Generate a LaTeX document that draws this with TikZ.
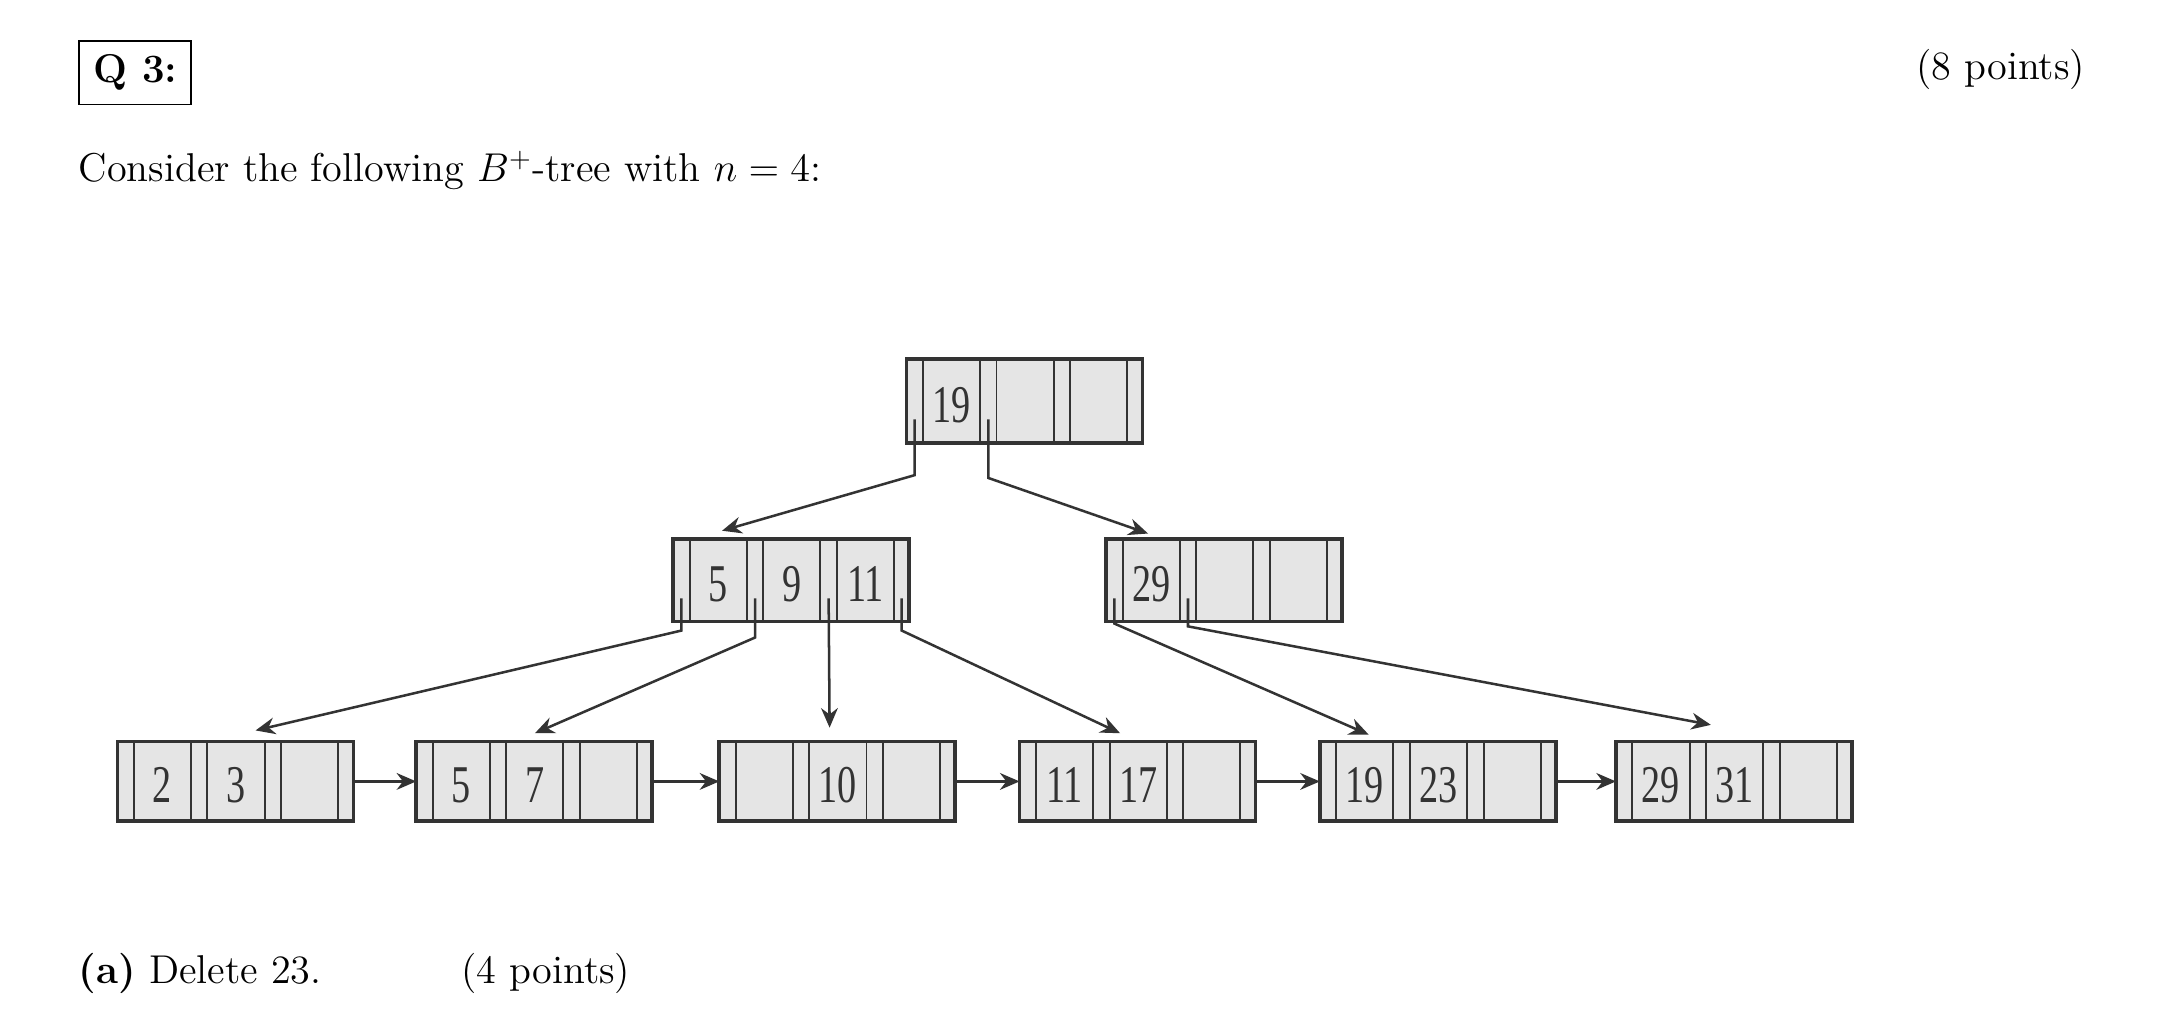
\documentclass[tikz,border=0pt]{standalone}
\usepackage{fontspec}
\newfontfamily\keyfont{Liberation Serif}
\usetikzlibrary{calc,arrows.meta}
\tikzset{
  ptr/.style={draw=black!80,line width=0.9pt,-{Stealth[length=7pt,width=6pt]}},
  cellline/.style={draw=black!80,line width=0.7pt},
  keytext/.style={font=\keyfont\fontsize{19}{19}\selectfont,inner sep=0pt,text=black!80}
}
\newcommand\bnode[7]{%
  \fill[black!10] (#2,#3) rectangle ++(169,#4);
  \foreach \b in {11.8,52.7,64.5,105.4,117.2,158.1} \draw[cellline] (#2+\b,#3) -- ++(0,#4);
  \draw[draw=black!80,line width=1.3pt] (#2,#3) rectangle ++(169,#4);
  \coordinate (#1-nw) at (#2,#3);
  \coordinate (#1-w) at (#2,#3+#4/2);
  \coordinate (#1-e) at (#2+169,#3+#4/2);
  \node[keytext] (#1-k1) at (#2+32.25,#3+#4*0.55) {\scalebox{0.72}[1]{#5}};
  \node[keytext] (#1-k2) at (#2+84.95,#3+#4*0.55) {\scalebox{0.72}[1]{#6}};
  \node[keytext] (#1-k3) at (#2+137.65,#3+#4*0.55) {\scalebox{0.72}[1]{#7}};
  \coordinate (#1-t0) at (#2+5.9,#3+#4*0.72);
  \coordinate (#1-t1) at (#2+58.6,#3+#4*0.72);
  \coordinate (#1-t2) at (#2+111.3,#3+#4*0.72);
  \coordinate (#1-t3) at (#2+163.6,#3+#4*0.72);
}
\begin{document}
\begin{tikzpicture}[x=0.5pt,y=-0.5pt]
\useasboundingbox (0,0) rectangle (1548,733);
\fill[white] (0,0) rectangle (1548,733);
\node[draw,line width=0.6pt,inner sep=5pt,anchor=west,font=\fontsize{14.4}{17}\selectfont\bfseries] (q) at (56,52) {Q 3:};
\node[anchor=east,font=\fontsize{14.4}{17}\selectfont] (pts) at (1500,50) {(8 points)};
\node[anchor=west,font=\fontsize{14.4}{17}\selectfont,inner sep=0pt] (intro) at (56,122) {Consider the following $B^{+}$-tree with $n=4$:};
\node[anchor=west,font=\fontsize{14.4}{17}\selectfont,inner sep=0pt] (qa) at (56,697) {\textbf{(a)} Delete 23.};
\node[anchor=west,font=\fontsize{14.4}{17}\selectfont,inner sep=0pt] (qapts) at (330,697) {(4 points)};

\bnode{root}{649}{257}{60}{19}{}{}
\bnode{ma}{482}{386}{59}{5}{9}{11}
\bnode{mb}{792}{386}{59}{29}{}{}
\bnode{la}{84}{531}{57}{2}{3}{}
\bnode{lb}{298}{531}{57}{5}{7}{}
\bnode{lc}{515}{531}{57}{}{10}{}
\bnode{ld}{730}{531}{57}{11}{17}{}
\bnode{le}{945}{531}{57}{19}{23}{}
\bnode{lf}{1157}{531}{57}{29}{31}{}

\draw[ptr] (root-t0) -- ($(root-t0)+(0,40)$) -- ($(ma-nw)+(35,-6)$);
\draw[ptr] (root-t1) -- ($(root-t1)+(0,42)$) -- ($(mb-nw)+(30,-4)$);
\draw[ptr] (ma-t0) -- ($(ma-t0)+(0,23)$) -- ($(la-nw)+(99,-8)$);
\draw[ptr] (ma-t1) -- ($(ma-t1)+(0,28)$) -- ($(lb-nw)+(85,-6)$);
\draw[ptr] (ma-t2) -- ($(lc-nw)+(79,-10)$);
\draw[ptr] (ma-t3) -- ($(ma-t3)+(0,23)$) -- ($(ld-nw)+(72,-6)$);
\draw[ptr] (mb-t0) -- ($(mb-t0)+(0,18)$) -- ($(le-nw)+(35,-5)$);
\draw[ptr] (mb-t1) -- ($(mb-t1)+(0,20)$) -- ($(lf-nw)+(68,-12)$);
\draw[ptr] (la-e) -- (lb-w);
\draw[ptr] (lb-e) -- (lc-w);
\draw[ptr] (lc-e) -- (ld-w);
\draw[ptr] (ld-e) -- (le-w);
\draw[ptr] (le-e) -- (lf-w);
\end{tikzpicture}
\end{document}
